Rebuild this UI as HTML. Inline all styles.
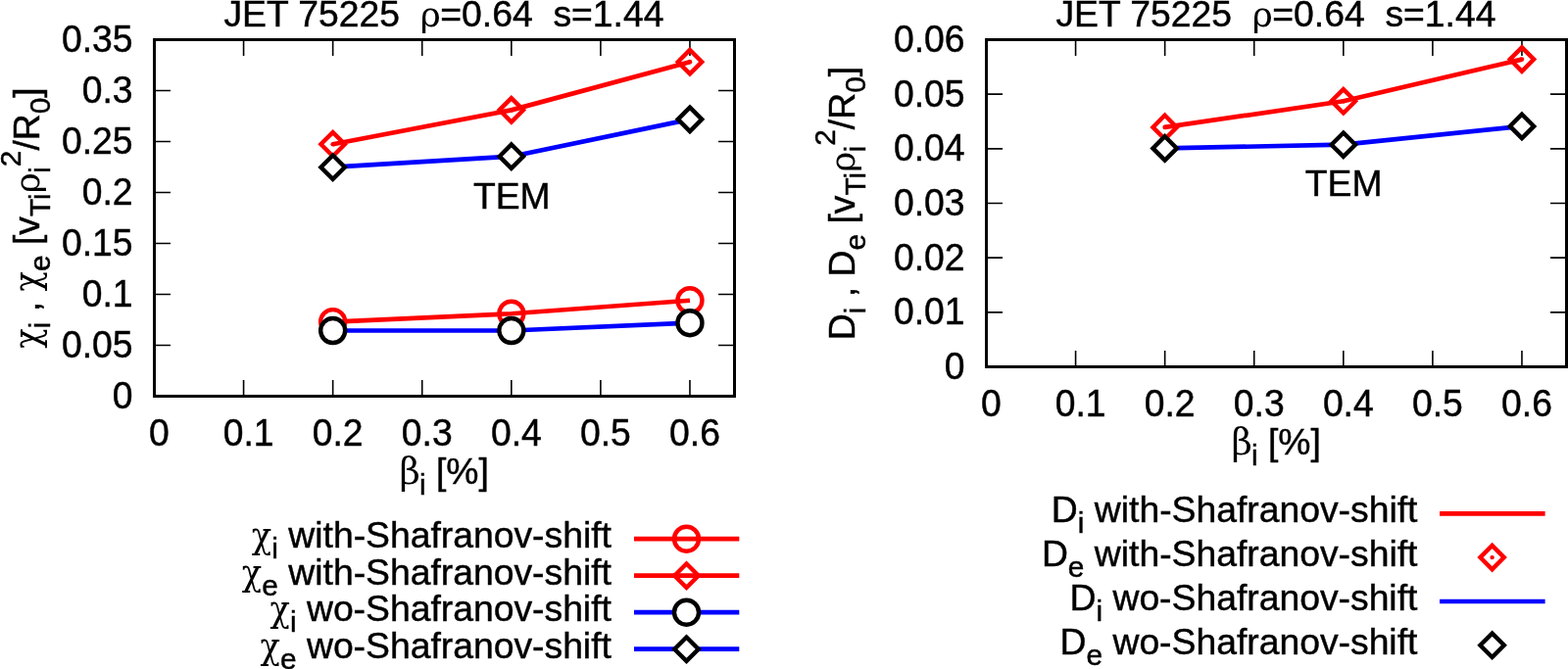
<!DOCTYPE html>
<html lang="en"><head><meta charset="utf-8"><title>JET 75225 plots</title>
<style>
html,body{margin:0;padding:0;background:#fff;}
body{width:1600px;height:683px;overflow:hidden;}
svg{display:block;}
text{font-family:"Liberation Sans",sans-serif;font-size:37.3px;fill:#000;stroke:#000;stroke-width:0.45;}
.s{font-size:29.84px;}
.p{white-space:pre;}
.gc,.gr,.gb{font-family:"DejaVu Serif","Liberation Serif",serif;stroke-width:0;}
.gc{font-stretch:condensed;font-size:37.3px;letter-spacing:0.15px;}
.gr{font-size:35.81px;letter-spacing:-0.58px;}
.gb{font-size:36.93px;letter-spacing:-0.87px;}
.fr{fill:none;stroke:#000;stroke-width:3;}
.tk{stroke:#000;stroke-width:1.6;fill:none;}
.r{stroke:#f00;stroke-width:4.7;fill:none;stroke-linejoin:round;}
.b{stroke:#00f;stroke-width:4.7;fill:none;stroke-linejoin:round;}
.mr{stroke:#f00;stroke-width:4.4;fill:none;}
.mk{stroke:#000;stroke-width:4.4;fill:#fff;}
</style></head><body>
<svg width="1600" height="683" viewBox="0 0 1600 683">
<rect x="0" y="0" width="1600" height="683" fill="#fff"/>
<rect class="fr" x="157.5" y="40.5" width="592" height="364"/>
<path class="tk" d="M248.58 404.5v-16.5M248.58 40.5v16.5M339.65 404.5v-16.5M339.65 40.5v16.5M430.73 404.5v-16.5M430.73 40.5v16.5M521.81 404.5v-16.5M521.81 40.5v16.5M612.88 404.5v-16.5M612.88 40.5v16.5M703.96 404.5v-16.5M703.96 40.5v16.5M157.5 352.5h16.5M749.5 352.5h-16.5M157.5 300.5h16.5M749.5 300.5h-16.5M157.5 248.5h16.5M749.5 248.5h-16.5M157.5 196.5h16.5M749.5 196.5h-16.5M157.5 144.5h16.5M749.5 144.5h-16.5M157.5 92.5h16.5M749.5 92.5h-16.5"/>
<g transform="scale(1,1.04)">
<text x="162.5" y="437.12" text-anchor="middle">0</text>
<text x="253.58" y="437.12" text-anchor="middle">0.1</text>
<text x="344.65" y="437.12" text-anchor="middle">0.2</text>
<text x="435.73" y="437.12" text-anchor="middle">0.3</text>
<text x="526.81" y="437.12" text-anchor="middle">0.4</text>
<text x="617.88" y="437.12" text-anchor="middle">0.5</text>
<text x="708.96" y="437.12" text-anchor="middle">0.6</text>
<text x="135.5" y="400.96" text-anchor="end">0</text>
<text x="135.5" y="350.96" text-anchor="end">0.05</text>
<text x="135.5" y="300.96" text-anchor="end">0.1</text>
<text x="135.5" y="250.96" text-anchor="end">0.15</text>
<text x="135.5" y="200.96" text-anchor="end">0.2</text>
<text x="135.5" y="150.96" text-anchor="end">0.25</text>
<text x="135.5" y="100.96" text-anchor="end">0.3</text>
<text x="135.5" y="50.96" text-anchor="end">0.35</text>
</g>
<text x="452.9" y="27" text-anchor="middle" class="p" xml:space="preserve">JET 75225  <tspan class="gr">ρ</tspan>=0.64  s=1.44</text>
<text x="453.2" y="494.1" text-anchor="middle"><tspan class="gb">β</tspan><tspan class="s" dy="10.8">i</tspan><tspan dy="-10.8"> [%]</tspan></text>
<text transform="translate(40.2,222.5) rotate(-90)" text-anchor="middle" class="p" xml:space="preserve"><tspan class="gc">χ</tspan><tspan class="s" dy="10.8">i</tspan><tspan dy="-10.8"> , </tspan><tspan class="gc">χ</tspan><tspan class="s" dy="10.8">e</tspan><tspan dy="-10.8"> [v</tspan><tspan class="s" dy="10.8">Ti</tspan><tspan class="gr" dy="-10.8">ρ</tspan><tspan class="s" dy="10.8">i</tspan><tspan class="s" dy="-30.2">2</tspan><tspan dy="19.4">/R</tspan><tspan class="s" dy="10.8">0</tspan><tspan dy="-10.8">]</tspan></text>
<path class="r" d="M339.65 328.58L521.81 320.26L703.96 306.74"/>
<circle class="mr" cx="339.65" cy="328.58" r="12.5"/>
<circle class="mr" cx="521.81" cy="320.26" r="12.5"/>
<circle class="mr" cx="703.96" cy="306.74" r="12.5"/>
<path class="r" d="M339.65 147.31L521.81 112.36L703.96 63.17"/>
<path class="mr" d="M339.65 135.11L351.85 147.31L339.65 159.51L327.45 147.31ZM521.81 100.16L534.01 112.36L521.81 124.56L509.61 112.36ZM703.96 50.97L716.16 63.17L703.96 75.37L691.76 63.17Z"/>
<circle cx="339.65" cy="147.31" r="2.3" fill="#f00"/>
<circle cx="521.81" cy="112.36" r="2.3" fill="#f00"/>
<circle cx="703.96" cy="63.17" r="2.3" fill="#f00"/>
<path class="b" d="M339.65 337.52L521.81 337.52L703.96 329.72"/>
<circle class="mk" cx="339.65" cy="337.52" r="12.5"/>
<circle class="mk" cx="521.81" cy="337.52" r="12.5"/>
<circle class="mk" cx="703.96" cy="329.72" r="12.5"/>
<path class="b" d="M339.65 170.71L521.81 159.68L703.96 121.83"/>
<path class="mk" d="M339.65 158.51L351.85 170.71L339.65 182.91L327.45 170.71ZM521.81 147.48L534.01 159.68L521.81 171.88L509.61 159.68ZM703.96 109.63L716.16 121.83L703.96 134.03L691.76 121.83Z"/>
<text x="522.3" y="213" text-anchor="middle">TEM</text>
<text x="623.9" y="559.3" text-anchor="end"><tspan class="gc">χ</tspan><tspan class="s" dy="10.8">i</tspan><tspan dy="-10.8"> with-Shafranov-shift</tspan></text>
<text x="623.9" y="596.8" text-anchor="end"><tspan class="gc">χ</tspan><tspan class="s" dy="10.8">e</tspan><tspan dy="-10.8"> with-Shafranov-shift</tspan></text>
<text x="623.9" y="634.3" text-anchor="end"><tspan class="gc">χ</tspan><tspan class="s" dy="10.8">i</tspan><tspan dy="-10.8"> wo-Shafranov-shift</tspan></text>
<text x="623.9" y="671.8" text-anchor="end"><tspan class="gc">χ</tspan><tspan class="s" dy="10.8">e</tspan><tspan dy="-10.8"> wo-Shafranov-shift</tspan></text>
<path class="r" d="M647 550.2H754.3M647 587.7H754.3"/>
<path class="b" d="M647 625.2H754.3M647 662.7H754.3"/>
<circle class="mr" cx="700.5" cy="550.2" r="12.5"/>
<path class="mr" d="M700.5 575.5L712.7 587.7L700.5 599.9L688.3 587.7Z"/>
<circle class="mk" cx="700.5" cy="625.2" r="12.5"/>
<path class="mk" d="M700.5 650.5L712.7 662.7L700.5 674.9L688.3 662.7Z"/>
<rect class="fr" x="1006.5" y="40.5" width="592" height="334"/>
<path class="tk" d="M1097.58 374.5v-16.5M1097.58 40.5v16.5M1188.65 374.5v-16.5M1188.65 40.5v16.5M1279.73 374.5v-16.5M1279.73 40.5v16.5M1370.81 374.5v-16.5M1370.81 40.5v16.5M1461.88 374.5v-16.5M1461.88 40.5v16.5M1552.96 374.5v-16.5M1552.96 40.5v16.5M1006.5 318.83h16.5M1598.5 318.83h-16.5M1006.5 263.17h16.5M1598.5 263.17h-16.5M1006.5 207.5h16.5M1598.5 207.5h-16.5M1006.5 151.83h16.5M1598.5 151.83h-16.5M1006.5 96.17h16.5M1598.5 96.17h-16.5"/>
<g transform="scale(1,1.04)">
<text x="1011.5" y="408.27" text-anchor="middle">0</text>
<text x="1102.58" y="408.27" text-anchor="middle">0.1</text>
<text x="1193.65" y="408.27" text-anchor="middle">0.2</text>
<text x="1284.73" y="408.27" text-anchor="middle">0.3</text>
<text x="1375.81" y="408.27" text-anchor="middle">0.4</text>
<text x="1466.88" y="408.27" text-anchor="middle">0.5</text>
<text x="1557.96" y="408.27" text-anchor="middle">0.6</text>
<text x="984.5" y="372.12" text-anchor="end">0</text>
<text x="984.5" y="318.59" text-anchor="end">0.01</text>
<text x="984.5" y="265.06" text-anchor="end">0.02</text>
<text x="984.5" y="211.54" text-anchor="end">0.03</text>
<text x="984.5" y="158.01" text-anchor="end">0.04</text>
<text x="984.5" y="104.49" text-anchor="end">0.05</text>
<text x="984.5" y="50.96" text-anchor="end">0.06</text>
</g>
<text x="1301.9" y="27" text-anchor="middle" class="p" xml:space="preserve">JET 75225  <tspan class="gr">ρ</tspan>=0.64  s=1.44</text>
<text x="1302.2" y="464.1" text-anchor="middle"><tspan class="gb">β</tspan><tspan class="s" dy="10.8">i</tspan><tspan dy="-10.8"> [%]</tspan></text>
<text transform="translate(871.8,207.5) rotate(-90)" text-anchor="middle" class="p" xml:space="preserve">D<tspan class="s" dy="10.8">i</tspan><tspan dy="-10.8"> , </tspan>D<tspan class="s" dy="10.8">e</tspan><tspan dy="-10.8"> [v</tspan><tspan class="s" dy="10.8">Ti</tspan><tspan class="gr" dy="-10.8">ρ</tspan><tspan class="s" dy="10.8">i</tspan><tspan class="s" dy="-30.2">2</tspan><tspan dy="19.4">/R</tspan><tspan class="s" dy="10.8">0</tspan><tspan dy="-10.8">]</tspan></text>
<path class="r" d="M1188.65 129.9L1370.81 103.29L1552.96 60.6"/>
<path class="mr" d="M1188.65 117.7L1200.85 129.9L1188.65 142.1L1176.45 129.9ZM1370.81 91.09L1383.01 103.29L1370.81 115.49L1358.61 103.29ZM1552.96 48.4L1565.16 60.6L1552.96 72.8L1540.76 60.6Z"/>
<circle cx="1188.65" cy="129.9" r="2.3" fill="#f00"/>
<circle cx="1370.81" cy="103.29" r="2.3" fill="#f00"/>
<circle cx="1552.96" cy="60.6" r="2.3" fill="#f00"/>
<path class="b" d="M1188.65 151.39L1370.81 147.71L1552.96 128.9"/>
<path class="mk" d="M1188.65 139.19L1200.85 151.39L1188.65 163.59L1176.45 151.39ZM1370.81 135.51L1383.01 147.71L1370.81 159.91L1358.61 147.71ZM1552.96 116.7L1565.16 128.9L1552.96 141.1L1540.76 128.9Z"/>
<text x="1371.2" y="200" text-anchor="middle">TEM</text>
<text x="1446.4" y="533.2" text-anchor="end">D<tspan class="s" dy="10.8">i</tspan><tspan dy="-10.8"> with-Shafranov-shift</tspan></text>
<text x="1446.4" y="578" text-anchor="end">D<tspan class="s" dy="10.8">e</tspan><tspan dy="-10.8"> with-Shafranov-shift</tspan></text>
<text x="1446.4" y="622.9" text-anchor="end">D<tspan class="s" dy="10.8">i</tspan><tspan dy="-10.8"> wo-Shafranov-shift</tspan></text>
<text x="1446.4" y="667.7" text-anchor="end">D<tspan class="s" dy="10.8">e</tspan><tspan dy="-10.8"> wo-Shafranov-shift</tspan></text>
<path class="r" d="M1469 524.3H1576.6"/>
<path class="b" d="M1469 614H1576.6"/>
<path class="mr" d="M1522.6 556.9L1534.8 569.1L1522.6 581.3L1510.4 569.1Z"/>
<circle cx="1522.6" cy="569.1" r="2.2" fill="#f00"/>
<path class="mk" d="M1522.6 646.6L1534.8 658.8L1522.6 671L1510.4 658.8Z"/>
</svg></body></html>
